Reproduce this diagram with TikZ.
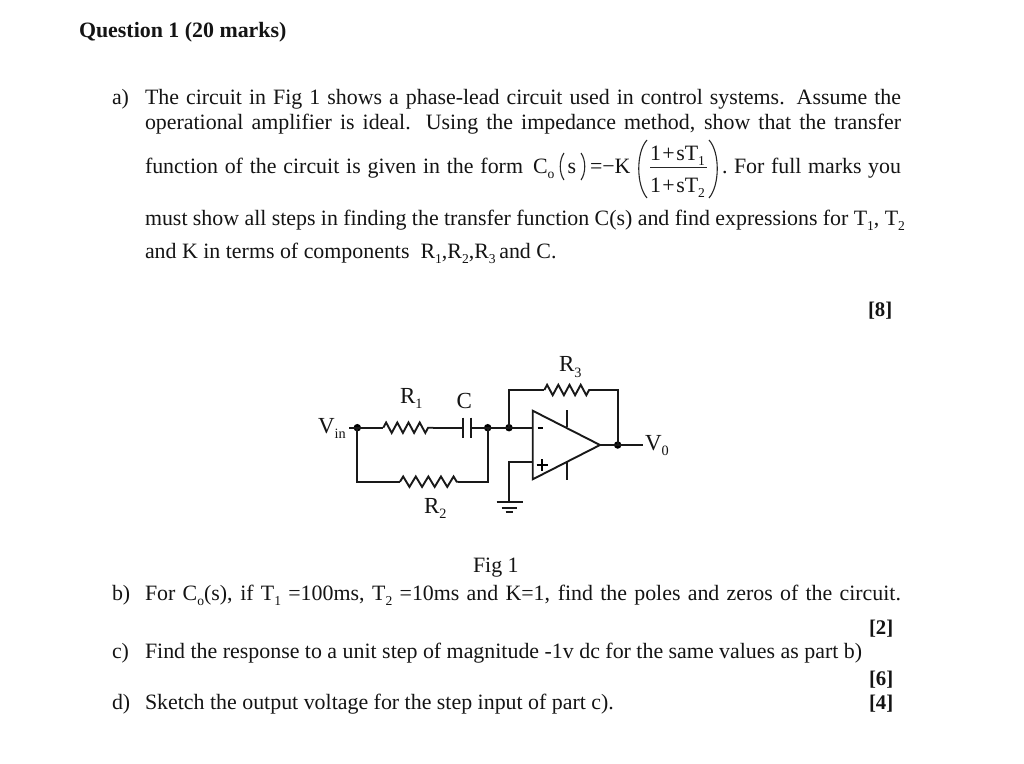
\documentclass[tikz,border=0pt]{standalone}
\usepackage{fontspec}
\setmainfont{Liberation Serif}
\usetikzlibrary{decorations.pathmorphing}
\newcommand{\sbs}[1]{\raisebox{-0.24em}{\fontsize{0.62em}{0.7em}\selectfont #1}}
\newcommand{\tline}[2]{\makebox[#1pt][s]{#2}}
\tikzset{
 x=1pt,y=-1pt,
 txt/.style={anchor=base west,inner sep=0pt,outer sep=0pt,font=\fontsize{21.9}{25}\selectfont,text=black!92},
 btxt/.style={txt,font=\fontsize{21.9}{25}\selectfont\bfseries},
 mtxt/.style={txt,font=\fontsize{20.8}{25}\selectfont\bfseries},
 lab/.style={anchor=base west,inner sep=0pt,outer sep=0pt,font=\fontsize{23}{27}\selectfont,text=black!92},
 wire/.style={line width=1.9pt,black!90},
 stub/.style={line width=1.7pt,black!90},
 res/.style={wire,decorate,decoration={zigzag,segment length=11.2pt,amplitude=5.2pt}},
 jdot/.style={circle,fill=black,inner sep=0pt,minimum size=7.5pt},
 opamp/.style={wire,line join=miter},
 brk/.style={line width=1.1pt,black!85}
}
\begin{document}
\begin{tikzpicture}
\useasboundingbox (0,0) rectangle (1024,763);
\fill[white] (0,0) rectangle (1024,763);
% text
\node[btxt] (title) at (79,37) {Question 1 (20 marks)};
\node[txt] (la) at (112,104) {a)};
\node[txt] (l1) at (145,104) {\tline{756}{The circuit in Fig 1 shows a phase-lead circuit used in control systems. Assume the}};
\node[txt] (l2) at (145,129) {\tline{756}{operational amplifier is ideal. Using the impedance method, show that the transfer}};
\node[txt] (l3) at (145,173) {\tline{378}{function of the circuit is given in the form}};
\node[txt] (f1) at (533,173) {C\sbs{o}};
\node[txt] (f2) at (567.5,173) {s};
\node[txt] (f3) at (590,173) {=−K};
\node[txt] (fn) at (650,160) {1\kern1.5pt+\kern1.5pt sT\sbs{1}};
\node[txt] (fd) at (650,192) {1\kern1.5pt+\kern1.5pt sT\sbs{2}};
\node[txt] (f4) at (722,173) {.};
\node[txt] (l3b) at (734,173) {\tline{167}{For full marks you}};
\draw[brk] (564,153) .. controls (559,160) and (559,173) .. (564,180);
\draw[brk] (581,153) .. controls (586,160) and (586,173) .. (581,180);
\draw[brk] (647,140) .. controls (636,152) and (636,185) .. (647,198);
\draw[brk] (709,140) .. controls (720,152) and (720,185) .. (709,198);
\draw[line width=1pt,black!85] (650,167.5) -- (707,167.5);
\node[txt] (l4) at (145,225) {\tline{760}{must show all steps in finding the transfer function C(s) and find expressions for T\sbs{1}, T\sbs{2}}};
\node[txt] (l5) at (145,258) {and K in terms of components \ R\sbs{1},R\sbs{2},R\sbs{3}\,and C.};
\node[mtxt] (m8) at (868,316) {[8]};
\node[txt] (fig) at (473,572) {Fig 1};
\node[txt] (lb) at (112,600) {b)};
\node[txt] (l6) at (145,600) {\tline{756}{For C\sbs{o}(s), if T\sbs{1} =100ms, T\sbs{2} =10ms and K=1, find the poles and zeros of the circuit.}};
\node[mtxt] (m2) at (869,634) {[2]};
\node[txt] (lc) at (112,658) {c)};
\node[txt] (l7) at (145,658) {Find the response to a unit step of magnitude -1v dc for the same values as part b)};
\node[mtxt] (m6) at (869,685) {[6]};
\node[txt] (ld) at (112,709) {d)};
\node[txt] (l8) at (145,709) {Sketch the output voltage for the step input of part c).};
\node[mtxt] (m4) at (869,709) {[4]};
% circuit points
\coordinate (in) at (349,427.7);
\coordinate (r1a) at (383.3,427.7);
\coordinate (r1b) at (433.3,427.7);
\coordinate (c1) at (462.7,427.7);
\coordinate (c2) at (470.7,427.7);
\coordinate (r2a) at (400,481.7);
\coordinate (r2b) at (458.3,481.7);
\coordinate (bl) at (357.3,481.7);
\coordinate (br) at (487.7,481.7);
\coordinate (fbl) at (509,390);
\coordinate (r3a) at (544.3,390);
\coordinate (r3b) at (593.3,390);
\coordinate (fbr) at (617.7,390);
\coordinate (oml) at (532.7,427.7);
\coordinate (opl) at (532.7,462.3);
\coordinate (gt) at (509,462.3);
\coordinate (g) at (509,502.3);
\coordinate (out) at (643.3,445);
\coordinate (tip) at (600,445);
\node[jdot] (jin) at (357.3,427.7) {};
\node[jdot] (ja) at (487.7,427.7) {};
\node[jdot] (jb) at (509,427.7) {};
\node[jdot] (jo) at (617.7,445) {};
% wires
\draw[wire] (in) -- (jin.center) -- (r1a);
\draw[res] (r1a) -- (r1b);
\draw[wire] (r1b) -- (c1);
\draw[wire] (c2) -- (ja.center) -- (jb.center) -- (oml);
\draw[wire] (jin.center) -- (bl) -- (r2a);
\draw[res,decoration={segment length=12.6pt}] (r2a) -- (r2b);
\draw[wire] (r2b) -- (br) -- (ja.center);
\draw[wire] (jb.center) -- (fbl) -- (r3a);
\draw[res] (r3a) -- (r3b);
\draw[wire] (r3b) -- (fbr) -- (jo.center);
\draw[wire] (tip) -- (jo.center) -- (out);
\draw[wire] (opl) -- (gt) -- (g);
% capacitor
\draw[stub] (462.7,417.5) -- (462.7,437.5);
\draw[stub] (470.7,417.5) -- (470.7,437.5);
% op amp
\draw[opamp] (532.7,410.7) -- (tip) -- (532.7,479.3) -- cycle;
\draw[stub] (566.7,410) -- (566.7,426.7);
\draw[stub] (566.7,461.7) -- (566.7,480);
\draw[line width=1.8pt] (537.5,427.7) -- (543,427.7);
\draw[line width=1.8pt] (536.5,465) -- (548,465) (542.2,459.2) -- (542.2,470.8);
% ground
\draw[wire] (496.7,502.3) -- (523.3,502.3);
\draw[wire] (501.5,507.7) -- (516.7,507.7);
\draw[wire] (505.5,512.3) -- (513.3,512.3);
% labels
\node[lab] (tr1) at (400,403) {R\sbs{1}};
\node[lab] (tc) at (456.5,408) {C};
\node[lab] (tr3) at (559,371.5) {R\sbs{3}};
\node[lab] (tr2) at (424,513) {R\sbs{2}};
\node[lab] (tvin) at (318,433) {V\sbs{in}};
\node[lab] (tvo) at (645,450) {V\sbs{0}};
\end{tikzpicture}
\end{document}
